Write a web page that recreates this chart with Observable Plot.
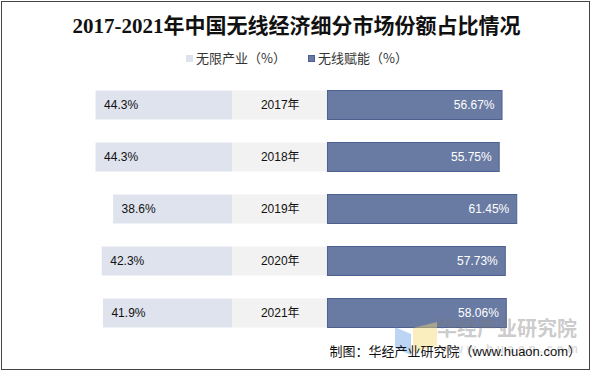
<!DOCTYPE html>
<html>
<head>
<meta charset="utf-8">
<script src="https://cdn.jsdelivr.net/npm/d3@7"></script>
<script src="https://cdn.jsdelivr.net/npm/@observablehq/plot@0.6"></script>
<style>
  html, body { margin: 0; padding: 0; background: #fff; }
  #wrap { position: relative; width: 593px; height: 372px; overflow: hidden; font-family: "Liberation Sans", "Noto Sans CJK SC", sans-serif; }
  #frame { position: absolute; left: 1px; top: 1px; width: 589px; height: 369px; border: 1.5px solid #444; box-sizing: border-box; pointer-events: none; }
  #title { position: absolute; left: 0; width: 593px; top: 11px; text-align: center; font-family: "Liberation Serif", "Noto Sans CJK SC", serif; font-weight: bold; font-size: 21px; color: #111; line-height: 30px; white-space: nowrap; }
  .leg { position: absolute; top: 49px; font-size: 13px; color: #333; line-height: 18px; font-family: "Noto Sans CJK SC", sans-serif; white-space: nowrap; }
  .sw { position: absolute; width: 7px; height: 7px; top: 55px; }
  #source { position: absolute; right: 12px; top: 343px; font-size: 13px; color: #111; line-height: 18px; font-family: "Liberation Sans", "Noto Sans CJK SC", sans-serif; white-space: nowrap; }
  #wm1 { position: absolute; left: 437px; top: 314px; font-size: 20px; font-weight: bold; color: rgba(120,120,120,0.4); font-family: "Noto Sans CJK SC", sans-serif; line-height: 28px; white-space: nowrap; }
  #wm2 { position: absolute; left: 441px; top: 342px; font-size: 12px; font-weight: bold; letter-spacing: 3.5px; color: rgba(140,140,140,0.3); font-family: "Liberation Sans", sans-serif; line-height: 14px; white-space: nowrap; }
  #logoA { position: absolute; left: 395px; top: 327px; width: 16px; height: 28px; background: rgba(90,150,230,0.4); clip-path: polygon(0 0, 100% 25%, 100% 100%, 0 75%); }
  #logoB { position: absolute; left: 413px; top: 322px; width: 24px; height: 30px; background: rgba(245,215,110,0.45); clip-path: polygon(0 20%, 100% 0, 100% 80%, 0 100%); }
  svg { position: absolute; left: 0; top: 0; }
</style>
</head>
<body>
<div id="wrap">
  <div id="chart"></div>
  <div id="logoA"></div>
  <div id="logoB"></div>
  <div id="wm1">华经产业研究院</div>
  <div id="wm2">www.huaon.com</div>
  <div id="title">2017-2021年中国无线经济细分市场份额占比情况</div>
  <div class="sw" style="left:186px;background:#dfe3ed;"></div>
  <div class="leg" id="leg1" style="left:196px;"></div>
  <div class="sw" style="left:308px;background:#6a7ba3;border:0.5px solid #4d6190;box-sizing:border-box;"></div>
  <div class="leg" id="leg2" style="left:318px;"></div>
  <div id="source">制图：华经产业研究院（www.huaon.com）</div>
  <div id="frame"></div>
</div>
<script>
// Data
const years = ["2017年", "2018年", "2019年", "2020年", "2021年"];
const wuxianChanye = [44.3, 44.3, 38.6, 42.3, 41.9];      // 无限产业（%）
const wuxianFuneng = [56.67, 55.75, 61.45, 57.73, 58.06]; // 无线赋能（%）
const seriesNames = ["无限产业（%）", "无线赋能（%）"];

document.getElementById("leg1").textContent = seriesNames[0];
document.getElementById("leg2").textContent = seriesNames[1];

const data = years.map((y, i) => ({year: y, left: wuxianChanye[i], right: wuxianFuneng[i]}));
const GAP = 31; // width of the central year band, in % units

const inset = {insetTop: 11.5, insetBottom: 11.5};
const chart = Plot.plot({
  width: 593,
  height: 372,
  margin: 0,
  style: {background: "transparent", fontFamily: "'Liberation Sans', 'Noto Sans CJK SC', sans-serif"},
  x: {domain: [-50, 100], range: [78, 540], axis: null},
  y: {domain: years, range: [79, 339], padding: 0, axis: null},
  marks: [
    Plot.barX(data, {y: "year", x1: d => -d.left, x2: 0, fill: "#dfe3ed", ...inset}),
    Plot.barX(data, {y: "year", x1: 0, x2: GAP, fill: "#f2f2f2", ...inset}),
    Plot.barX(data, {y: "year", x1: GAP, x2: d => GAP + d.right, fill: "#6a7ba3", stroke: "#4d6190", strokeWidth: 1, ...inset}),
    Plot.text(data, {y: "year", x: d => -d.left, text: d => d.left.toFixed(1) + "%", textAnchor: "start", dx: 8, fill: "#111", fontSize: 12}),
    Plot.text(data, {y: "year", x: GAP / 2, text: "year", fill: "#111", fontSize: 12}),
    Plot.text(data, {y: "year", x: d => GAP + d.right, text: d => d.right.toFixed(2) + "%", textAnchor: "end", dx: -8, fill: "#fff", fontSize: 12})
  ]
});
document.getElementById("chart").appendChild(chart);
</script>
</body>
</html>
